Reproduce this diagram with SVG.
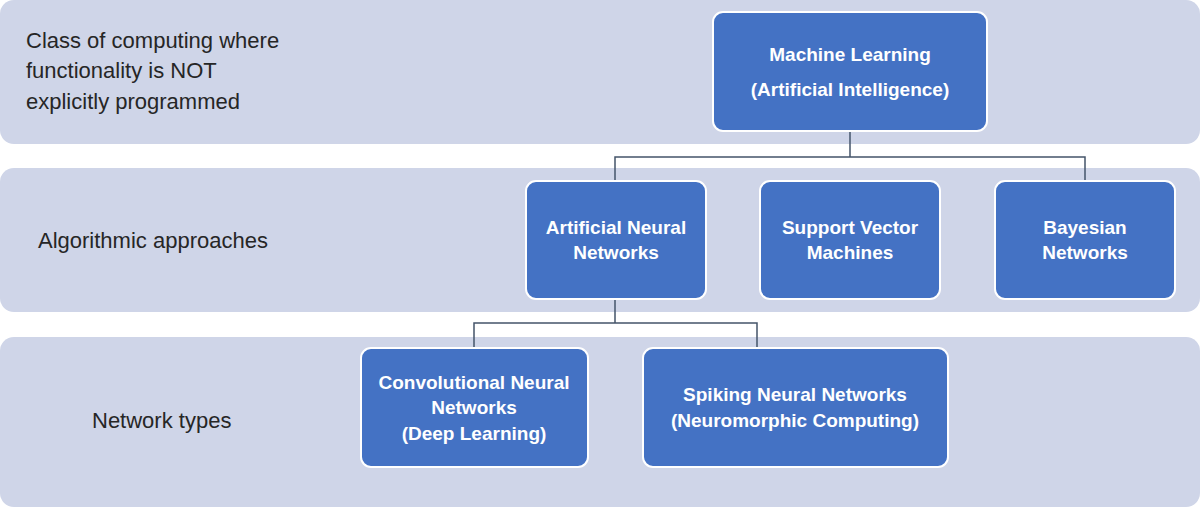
<svg xmlns="http://www.w3.org/2000/svg" width="1200" height="508" viewBox="0 0 1200 508">
<style>
.band{fill:#cfd5e8}
.node rect{fill:#4472c4;stroke:#ffffff;stroke-width:2}
.node text{fill:#ffffff;font-family:"Liberation Sans",Arial,sans-serif;font-weight:bold;font-size:19px;text-anchor:middle}
.lbl{fill:#262626;font-family:"Liberation Sans",Arial,sans-serif;font-size:22px}
.conn path{fill:none;stroke:#44546a;stroke-width:1.5}
</style>
<rect width="1200" height="508" fill="#ffffff"/>
<rect class="band" x="0" y="0" width="1200" height="144" rx="14"/>
<rect class="band" x="0" y="168" width="1200" height="144" rx="14"/>
<rect class="band" x="0" y="337" width="1200" height="170" rx="14"/>
<text class="lbl" x="26" y="48">Class of computing where</text>
<text class="lbl" x="26" y="78">functionality is NOT</text>
<text class="lbl" x="26" y="109">explicitly programmed</text>
<text class="lbl" x="38" y="248">Algorithmic approaches</text>
<text class="lbl" x="92" y="428">Network types</text>
<g class="conn">
<path d="M850 131V157M615 181V157H1085V181"/>
<path d="M615 299V323M474 348V323H757V348"/>
</g>
<g id="ml" class="node"><rect x="713" y="12" width="274" height="119" rx="10"/><text x="850" y="61">Machine Learning</text><text x="850" y="96">(Artificial Intelligence)</text></g>
<g id="ann" class="node"><rect x="526" y="181" width="180" height="118" rx="10"/><text x="616" y="234">Artificial Neural</text><text x="616" y="259">Networks</text></g>
<g id="svm" class="node"><rect x="760" y="181" width="180" height="118" rx="10"/><text x="850" y="234">Support Vector</text><text x="850" y="259">Machines</text></g>
<g id="bn" class="node"><rect x="995" y="181" width="180" height="118" rx="10"/><text x="1085" y="234">Bayesian</text><text x="1085" y="259">Networks</text></g>
<g id="cnn" class="node"><rect x="361" y="348" width="227" height="119" rx="10"/><text x="474" y="389">Convolutional Neural</text><text x="474" y="414">Networks</text><text x="474" y="440">(Deep Learning)</text></g>
<g id="snn" class="node"><rect x="643" y="348" width="305" height="119" rx="10"/><text x="795" y="401">Spiking Neural Networks</text><text x="795" y="427">(Neuromorphic Computing)</text></g>
</svg>
